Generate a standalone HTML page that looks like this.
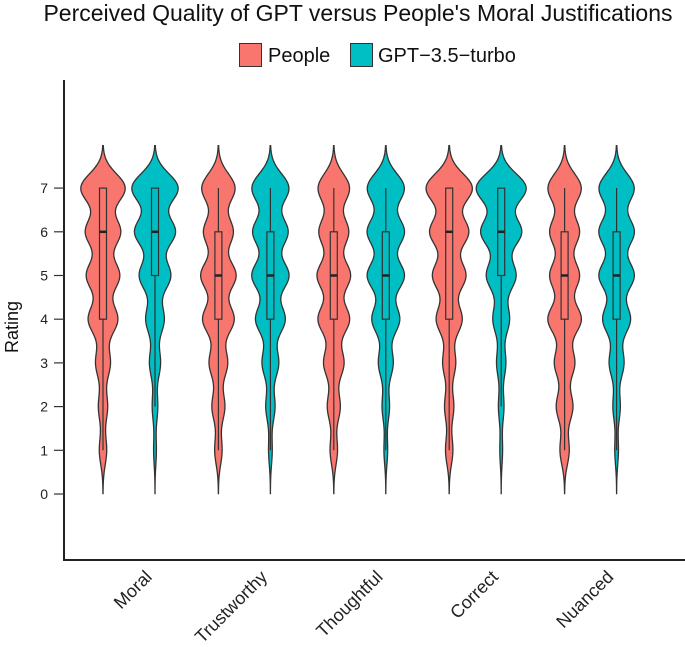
<!DOCTYPE html>
<html><head><meta charset="utf-8"><style>
body{margin:0;background:#fff;}
svg{display:block;font-family:"Liberation Sans",sans-serif;}
</style></head><body>
<svg id="c" width="685" height="647">
<text x="358" y="21" text-anchor="middle" font-size="23" fill="#111">Perceived Quality of GPT versus People's Moral Justifications</text>
<g>
<rect x="239.5" y="43.5" width="22" height="23" fill="#F8766D" stroke="#333"/>
<text x="268" y="62" font-size="20" fill="#111">People</text>
<rect x="350.5" y="43.5" width="22" height="23" fill="#00BFC4" stroke="#333"/>
<text x="378" y="62" font-size="20" fill="#111">GPT−3.5−turbo</text>
</g>
<text transform="translate(18,327) rotate(-90)" text-anchor="middle" font-size="18" fill="#111">Rating</text>
<g id="plot"></g>
</svg>
<script>
const categories=["Moral","Trustworthy","Thoughtful","Correct","Nuanced"];
const yTicks=[0,1,2,3,4,5,6,7];
const ratings=[1,2,3,4,5,6,7];
const peopleCounts=[[4,5,8,16,18,19,24],[4,7,10,17,19,16,18],[4,7,11,17,18,16,17],[4,5,7,14,18,21,25],[5,9,11,18,16,16,18]];
const gptCounts=[[1.5,3,6,10,17,22,25],[2,5,9,16,20,19,20],[2,4,8,15,20,20,20],[1.5,3,5,9,16,22,27],[2,4,8,15,19,19,19]];
// box stats: [whiskerLow, q1, median, q3, whiskerHigh]
const peopleBox=[[1,4,6,7,7],[1,4,5,6,7],[1,4,5,6,7],[1,4,6,7,7],[1,4,5,6,7]];
const gptBox=[[2,5,6,7,7],[1,4,5,6,7],[1,4,5,6,7],[2,5,6,7,7],[1,4,5,6,7]];

const NS="http://www.w3.org/2000/svg";
const plot=document.getElementById('plot');
const y=v=>494-43.7*v;
const x0=64,x1=685,yB=560,yT=80;
const groupX=i=>129+i*115.4;
const off=26,bw=0.33;
function mk(t,a){const e=document.createElementNS(NS,t);for(const k in a)e.setAttribute(k,a[k]);plot.appendChild(e);return e;}
let gmax=0;
function dens(counts,v){let s=0;counts.forEach((c,j)=>{s+=c*Math.exp(-0.5*Math.pow((v-ratings[j])/bw,2));});return s;}
[peopleCounts,gptCounts].forEach(S=>S.forEach(c=>{for(let v=0;v<=8;v+=0.05)gmax=Math.max(gmax,dens(c,v));}));
const maxHalf=25;
function violin(cx,counts,color,name){
  const lo=ratings[0]-3*bw,hi=ratings[ratings.length-1]+3*bw;
  const L=[],R=[];
  for(let v=lo;v<=hi+1e-9;v+=0.04){const w=dens(counts,v)/gmax*maxHalf;R.push([cx+w,y(v)]);L.push([cx-w,y(v)]);}
  const pts=R.concat(L.reverse());
  const p=mk('path',{d:'M'+pts.map(q=>q[0].toFixed(2)+','+q[1].toFixed(2)).join('L')+'Z',fill:color,stroke:'#333','stroke-width':1.3});
  
  
}
function box(cx,b,name){
  const g=document.createElementNS(NS,'g');plot.appendChild(g);
  
  
  const add=(t,a)=>{const e=document.createElementNS(NS,t);for(const k in a)e.setAttribute(k,a[k]);g.appendChild(e);};
  add('line',{x1:cx,x2:cx,y1:y(b[0]),y2:y(b[1]),stroke:'#333','stroke-width':1.2});
  add('line',{x1:cx,x2:cx,y1:y(b[3]),y2:y(b[4]),stroke:'#333','stroke-width':1.2});
  add('rect',{x:cx-3.5,y:y(b[3]),width:7,height:y(b[1])-y(b[3]),fill:'none',stroke:'#333','stroke-width':1.2});
  add('line',{x1:cx-3.5,x2:cx+3.5,y1:y(b[2]),y2:y(b[2]),stroke:'#222','stroke-width':2.5});
}
categories.forEach((c,i)=>{
  const cx=groupX(i);
  violin(cx-off,peopleCounts[i],'#F8766D','violin-people-'+c.toLowerCase());
  violin(cx+off,gptCounts[i],'#00BFC4','violin-gpt-'+c.toLowerCase());
  box(cx-off,peopleBox[i],'box-people-'+c.toLowerCase());
  box(cx+off,gptBox[i],'box-gpt-'+c.toLowerCase());
  const t=mk('text',{transform:`translate(${cx+24},${yB+18}) rotate(-45)`,'text-anchor':'end','font-size':18,fill:'#222'});
  t.textContent=c;
  
  
});
const ya=mk('line',{x1:x0,x2:x0,y1:yT,y2:yB+1,stroke:'#222','stroke-width':2});


const xa=mk('line',{x1:x0-1,x2:x1,y1:yB,y2:yB,stroke:'#222','stroke-width':2});


yTicks.forEach(v=>{
  const l=mk('line',{x1:x0-10,x2:x0,y1:y(v),y2:y(v),stroke:'#333','stroke-width':1.2});
  
  
  const t=mk('text',{x:x0-16,y:y(v)+5,'text-anchor':'end','font-size':14,fill:'#222'});
  t.textContent=v;
  
  
});
</script>
</body></html>
